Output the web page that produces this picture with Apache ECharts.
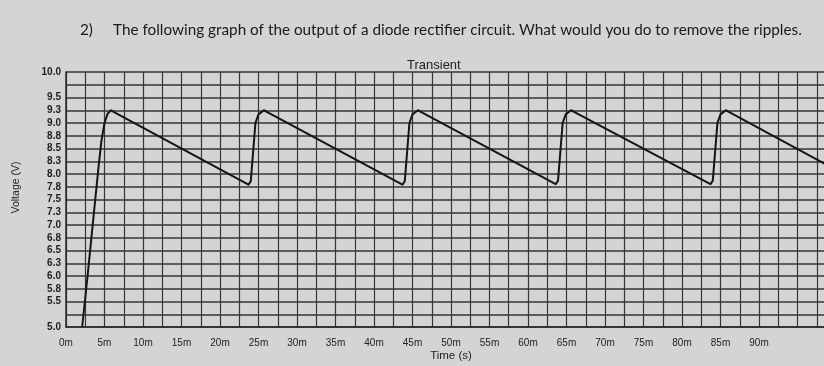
<!DOCTYPE html>
<html><head><meta charset="utf-8">
<script src="https://cdn.jsdelivr.net/npm/echarts@6/dist/echarts.min.js"></script>
<style>html,body{margin:0;padding:0;background:#d4d4d2}#c{width:824px;height:366px}</style>
</head><body><div id="c"></div>
<script>
// time in ms, voltage in V
const timeMs = [2.1, 2.8, 3.5, 4.2, 4.6, 5.0, 5.4, 5.85, 6.3,
  23.7, 24.0, 24.6, 25.0, 25.7, 26.2,
  43.7, 44.0, 44.6, 45.0, 45.7, 46.2,
  63.6, 63.9, 64.5, 64.9, 65.6, 66.1,
  83.7, 84.0, 84.6, 85.0, 85.7, 86.2,
  100];
const voltage = [5.0, 6.0, 7.05, 8.1, 8.65, 9.0, 9.18, 9.25, 9.21,
  7.79, 7.86, 9.0, 9.17, 9.25, 9.21,
  7.79, 7.86, 9.0, 9.17, 9.25, 9.21,
  7.8, 7.87, 9.0, 9.17, 9.25, 9.21,
  7.8, 7.87, 9.0, 9.17, 9.25, 9.21,
  8.08];
const xTickLabels = ['0m','5m','10m','15m','20m','25m','30m','35m','40m','45m','50m','55m','60m','65m','70m','75m','80m','85m','90m'];
const yTickLabels = ['5.0','','5.5','5.8','6.0','6.3','6.5','6.8','7.0','7.3','7.5','7.8','8.0','8.3','8.5','8.8','9.0','9.3','9.5','','10.0'];
const questionNumber = '2)';
const questionText = 'The following graph of the output of a diode rectifier circuit. What would you do to remove the ripples.';
const chartTitle = 'Transient';
const xAxisTitle = 'Time (s)';
const yAxisTitle = 'Voltage (V)';

const gridColor = '#363636';
const chart = echarts.init(document.getElementById('c'), null, {renderer: 'canvas'});
chart.setOption({
  backgroundColor: '#d4d4d2',
  animation: false,
  title: [
    {text: questionNumber, left: 80, top: 23, padding: 0,
     textStyle: {fontFamily: 'Lato', fontSize: 15.3, fontWeight: 'normal', color: '#1a1a1a'}},
    {text: questionText, left: 113, top: 23, padding: 0,
     textStyle: {fontFamily: 'Lato', fontSize: 15.3, fontWeight: 'normal', color: '#1a1a1a'}},
    {text: chartTitle, left: 407, top: 59, padding: 0,
     textStyle: {fontFamily: 'Liberation Sans', fontSize: 13, fontWeight: 'normal', color: '#222'}}
  ],
  grid: {left: 66, top: 72, width: 770, height: 255, containLabel: false, outerBoundsMode: 'none'},
  xAxis: {
    type: 'value', min: 0, max: 100, interval: 5,
    axisLine: {show: true, lineStyle: {color: '#2a2a2a', width: 1.5}},
    axisTick: {show: false},
    axisLabel: {color: '#222', fontSize: 10, fontFamily: 'Liberation Sans', margin: 11,
      formatter: function (v) { const i = Math.round(v / 5); return i < xTickLabels.length ? xTickLabels[i] : ''; }},
    splitLine: {show: true, lineStyle: {color: gridColor, width: 1.2}},
    minorTick: {show: false, splitNumber: 2},
    minorSplitLine: {show: true, lineStyle: {color: gridColor, width: 1.2}},
    name: xAxisTitle, nameLocation: 'middle', nameGap: 23, nameMoveOverlap: false,
    nameTextStyle: {color: '#222', fontSize: 11.5, fontFamily: 'Liberation Sans'}
  },
  yAxis: {
    type: 'value', min: 5, max: 10, interval: 0.25,
    axisLine: {show: true, lineStyle: {color: '#2a2a2a', width: 1.5}},
    axisTick: {show: false},
    axisLabel: {color: '#1e1e1e', fontSize: 10, fontFamily: 'Liberation Sans', fontWeight: 'bold', margin: 5,
      formatter: function (v) { const i = Math.round((v - 5) / 0.25); return yTickLabels[i] || ''; }},
    splitLine: {show: true, lineStyle: {color: gridColor, width: 1.5}},
    name: yAxisTitle, nameLocation: 'middle', nameGap: 44, nameRotate: 90,
    nameTextStyle: {color: '#222', fontSize: 10.5, fontFamily: 'Liberation Sans', padding: [0, 0, 0, 24]}
  },
  series: [{
    type: 'line',
    data: timeMs.map((t, i) => [t, voltage[i]]),
    showSymbol: false,
    lineStyle: {color: '#151515', width: 2, join: 'round'},
    z: 5
  }]
});
</script>
</body></html>
